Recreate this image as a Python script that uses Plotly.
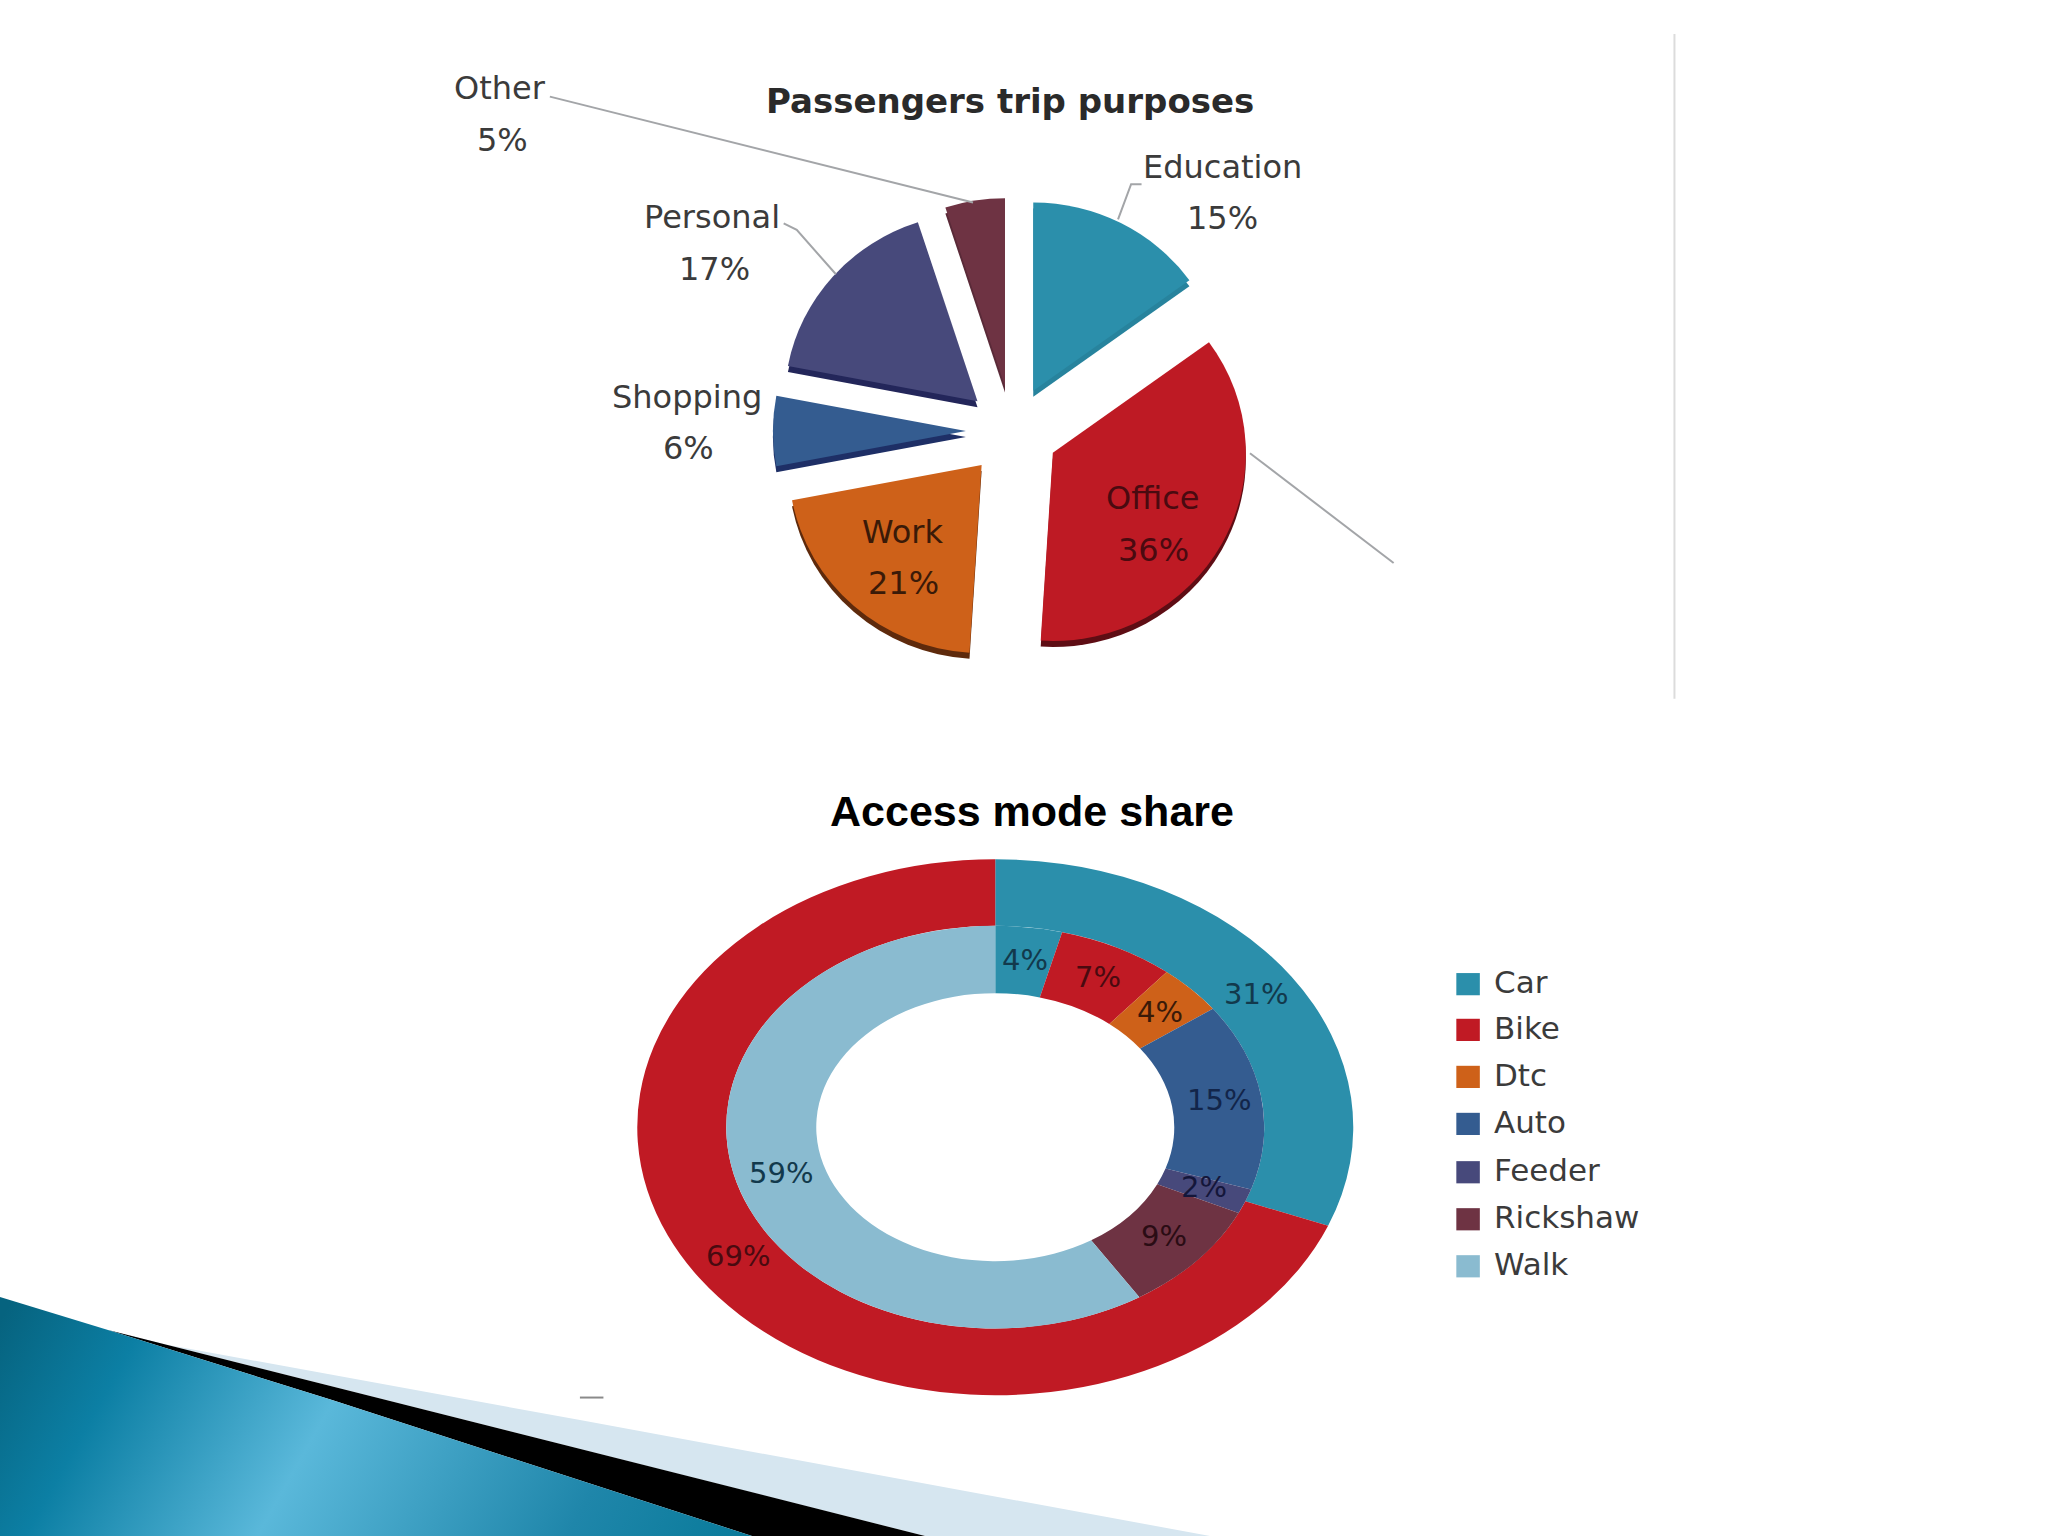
import base64
import plotly.graph_objects as go

# ---------- data ----------
trip_labels = ["Education", "Office", "Work", "Shopping", "Personal", "Other"]
trip_values = [15, 36, 21, 6, 17, 5]
mode_labels = ["Car", "Bike", "Dtc", "Auto", "Feeder", "Rickshaw", "Walk"]
outer_labels = ["Car", "Bike"]
outer_values = [31, 69]
inner_values = [4, 7, 4, 15, 2, 9, 59]
trip_title = "Passengers trip purposes"
mode_title = "Access mode share"

# ---------- styles ----------
W, H = 2048, 1536
S = 2048 / 1568  # reading scale of the reference
trip_colors = ["#2B8FAB", "#BE1A24", "#CE6119", "#345C90", "#47497B", "#6E3343"]
trip_shadow = ["#27839D", "#5E0D14", "#5E2A0C", "#1E2F66", "#23265A", "#5A2A38"]
mode_colors = ["#2B8FAB", "#C01A24", "#CE6119", "#345C90", "#47497B", "#6E3343", "#8ABBD0"]
outer_colors = ["#2B8FAB", "#C01A24"]
FONT = "DejaVu Sans"
GREY = "#A3A5A8"


def fx(px):
    return px / W


def fy(py):
    return 1 - py / H


def dom(cx, cy, r):
    return dict(x=[fx(cx - r), fx(cx + r)], y=[fy(cy + r), fy(cy - r)])


# ---------- geometry ----------
pull = 0.24
pie_r = 193
pie_cx, pie_cy = 775 * S, 330 * S
pie_dom_r = pie_r * (1 + pull)
pie_squash = 0.975
ring_cx, ring_cy = 762 * S, 863 * S
ring_outer_r, ring_mid_r, ring_hole_r = 358, 269, 179
ring_squash = 268 / 358

fig = go.Figure()
common = dict(sort=False, direction="clockwise", rotation=0, textinfo="none",
              showlegend=False)
fig.add_trace(go.Pie(labels=trip_labels, values=trip_values, pull=pull,
                     domain=dom(pie_cx, pie_cy + 6, pie_dom_r), hoverinfo="skip",
                     marker=dict(colors=trip_shadow), **common))
fig.add_trace(go.Pie(labels=trip_labels, values=trip_values, pull=pull,
                     domain=dom(pie_cx, pie_cy, pie_dom_r),
                     marker=dict(colors=trip_colors), **common))
fig.add_trace(go.Pie(labels=outer_labels, values=outer_values,
                     hole=ring_mid_r / ring_outer_r,
                     domain=dom(ring_cx, ring_cy, ring_outer_r),
                     marker=dict(colors=outer_colors), **common))
fig.add_trace(go.Pie(labels=mode_labels, values=inner_values,
                     hole=ring_hole_r / ring_mid_r,
                     domain=dom(ring_cx, ring_cy, ring_mid_r),
                     marker=dict(colors=mode_colors), **common))

ann = []


def text(x, y, t, size, color, family=FONT, anchor="center"):
    ann.append(dict(x=fx(x * S), y=fy(y * S), xref="paper", yref="paper", text=t,
                    showarrow=False, xanchor=anchor, yanchor="middle",
                    font=dict(size=size, color=color, family=family)))


# Titles
text(773, 77, f"<b>{trip_title}</b>", 34, "#2A2A2A")
text(790, 621, f"<b>{mode_title}</b>", 43, "#000000", "Liberation Sans")

# Pie labels: name position, percent position, colour
pie_label_pos = [((936, 128), (936, 167), "#3B3B3B"),
                 ((882, 381), (883, 421), "#4A0A10"),
                 ((691, 407), (692, 446), "#3A1A08"),
                 ((526, 304), (527, 343), "#3B3B3B"),
                 ((545, 166), (547, 206), "#3B3B3B"),
                 ((383, 67), (385, 107), "#3B3B3B")]
for name, val, (p1, p2, col) in zip(trip_labels, trip_values, pie_label_pos):
    text(*p1, name, 32, col)
    text(*p2, f"{val}%", 32, col)

# Ring labels
inner_label_pos = [(785, 735), (841, 748), (888, 775), (933, 842), (922, 909), (891, 946), (598, 898)]
inner_label_col = ["#12394C", "#4A0A10", "#3A1A08", "#12254A", "#14163A", "#2A0C14", "#12394C"]
for val, pos, col in zip(inner_values, inner_label_pos, inner_label_col):
    text(*pos, f"{val}%", 29, col)
outer_label_pos = [(962, 761), (565, 962)]
outer_label_col = ["#12394C", "#4A0A10"]
for val, pos, col in zip(outer_values, outer_label_pos, outer_label_col):
    text(*pos, f"{val}%", 29, col)

# Key
shapes = []
legend_y = [752, 787, 823, 859, 896, 932, 968]
for name, col, y in zip(mode_labels, mode_colors, legend_y):
    text(1142, y, name, 31, "#3B3B3B", anchor="left")
    shapes.append(dict(type="rect", xref="paper", yref="paper", line_width=0, fillcolor=col,
                       x0=fx(1115 * S), x1=fx(1133 * S),
                       y0=fy((y + 10) * S), y1=fy((y - 7) * S)))


def polyline(points, color=GREY, width=2):
    d = "M " + " L ".join(f"{fx(x * S)} {fy(y * S)}" for x, y in points)
    shapes.append(dict(type="path", path=d, xref="paper", yref="paper",
                       line=dict(color=color, width=width)))


polyline([(421, 74), (745, 155)])
polyline([(874, 141), (866, 141), (856, 168)])
polyline([(600, 171), (610, 176), (640, 210)])
polyline([(957, 347), (1067, 431)])
polyline([(1282, 26), (1282, 535)], "#DCDCDC", 2)
polyline([(444, 1070), (462, 1070)], "#8A8A8A", 2)

# Corner decoration of the slide
svg = f"""<svg xmlns="http://www.w3.org/2000/svg" width="{W}" height="{H}" viewBox="0 0 {W} {H}">
<defs><linearGradient id="g" gradientUnits="userSpaceOnUse" x1="565" y1="318" x2="1218" y2="686">
<stop offset="0" stop-color="#06637F"/><stop offset="0.17" stop-color="#0C7FA4"/>
<stop offset="0.44" stop-color="#5AB8DA"/><stop offset="0.8" stop-color="#1F86AA"/>
<stop offset="1" stop-color="#0A7B9B"/></linearGradient></defs>
<polygon fill="#D6E6F0" points="108,1330 141,1340 580,1420 1210,1536 925,1536"/>
<polygon fill="#000000" points="108,1330 398,1403 925,1536 752,1536 332,1400"/>
<polygon fill="url(#g)" points="0,1297 108,1330 332,1400 752,1536 0,1536"/>
</svg>"""
img = "data:image/svg+xml;base64," + base64.b64encode(svg.encode()).decode()

fig.update_layout(
    width=W, height=H, margin=dict(l=0, r=0, t=0, b=0, pad=0, autoexpand=False),
    paper_bgcolor="#FFFFFF", showlegend=False, annotations=ann, shapes=shapes,
    images=[dict(source=img, xref="paper", yref="paper", x=0, y=1, sizex=1, sizey=1,
                 xanchor="left", yanchor="top", sizing="stretch", layer="below")],
)

# The reference's charts are drawn in perspective: flatten each pie trace about its centre.
post = f"""
document.body.style.margin = '0';
var traces = document.querySelectorAll('.pielayer .trace');
function flatten(i, cy, k) {{
  if (traces[i]) traces[i].setAttribute('transform',
    'translate(0,' + cy + ') scale(1,' + k + ') translate(0,' + (-cy) + ')');
}}
flatten(0, {pie_cy + 6}, {pie_squash});
flatten(1, {pie_cy}, {pie_squash});
flatten(2, {ring_cy}, {ring_squash});
flatten(3, {ring_cy}, {ring_squash});
"""
fig.write_html("out.html", post_script=post, config=dict(displayModeBar=False))
